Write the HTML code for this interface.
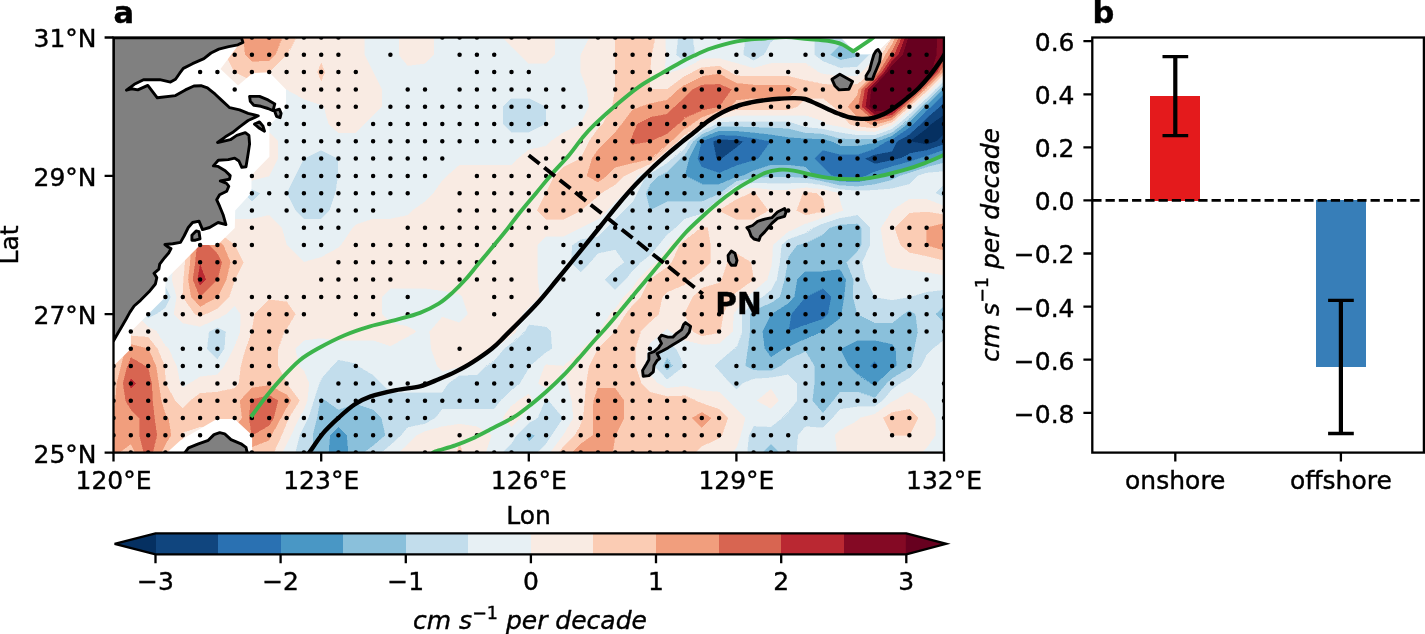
<!DOCTYPE html><html><head><meta charset="utf-8"><title>figure</title><style>html,body{margin:0;padding:0;background:#fff}svg{display:block}text{font-family:"DejaVu Sans","Liberation Sans",sans-serif;fill:#000;stroke:#000;stroke-width:0.4px}</style></head><body>
<svg width="1425" height="634" viewBox="0 0 1425 634">
<rect width="1425" height="634" fill="#fff"/>
<defs><clipPath id="ca"><rect x="113.5" y="37.5" width="830.4" height="415.1"/></clipPath></defs>
<g clip-path="url(#ca)">
<g shape-rendering="crispEdges">
<path d="M909.4 141.3L926.6 144.7L937.0 141.3L944.0 134.4L944.0 124.0L944.0 114.5L931.0 124.0L926.6 128.3L909.4 141.3L909.4 141.3Z" fill="#053061" stroke="#053061" stroke-width="0.6" fill-rule="evenodd"/>
<path d="M719.1 159.9L721.9 158.6L736.4 147.8L743.8 141.3L736.4 139.9L719.1 139.1L712.9 141.3L716.2 158.6ZM874.8 164.1L892.1 160.4L899.5 158.6L909.4 153.6L926.6 150.5L944.0 144.6L944.0 141.3L944.0 134.4L937.0 141.3L926.6 144.7L909.4 141.3L909.4 141.3L909.4 141.3L926.7 128.3L931.0 124.0L944.0 114.5L944.0 106.7L944.0 102.4L939.6 106.7L926.6 118.0L920.6 124.0L909.4 134.4L897.0 141.3L892.1 151.2L874.8 154.4L864.7 158.6Z" fill="#10457e" stroke="#10457e" stroke-width="0.6" fill-rule="evenodd"/>
<path d="M874.8 369.6L878.6 366.1L874.8 361.2L869.8 366.1ZM788.2 331.5L788.2 331.5L805.5 325.0L822.9 319.2L828.2 314.2L831.5 296.9L822.9 288.3L805.5 296.9L805.5 296.9L791.1 314.2L788.2 331.5L788.2 331.5ZM840.1 177.8L857.5 178.0L866.1 175.9L874.8 171.9L892.1 166.6L909.4 161.9L919.7 158.6L926.6 156.3L944.0 150.2L944.0 144.6L926.6 150.5L909.4 153.6L899.5 158.6L892.1 160.4L874.8 164.1L864.7 158.6L874.8 154.4L892.1 151.2L897.0 141.3L909.4 134.4L920.6 124.0L926.6 118.0L939.6 106.7L944.0 102.4L944.0 93.7L931.0 106.7L926.6 110.4L913.1 124.0L909.4 127.4L892.1 139.2L886.3 141.3L874.8 148.4L857.5 154.2L840.1 154.2L822.9 149.9L814.2 158.6L822.9 167.2L831.5 175.9ZM701.8 167.2L719.1 173.2L736.4 165.8L753.6 160.6L758.6 158.6L771.0 141.3L771.0 141.3L771.0 141.3L753.6 137.9L736.4 135.4L719.1 134.8L701.8 140.9L701.3 141.3L697.4 158.6ZM716.2 158.6L712.9 141.3L719.1 139.1L736.4 139.9L743.8 141.3L736.4 147.8L721.9 158.6L719.1 159.9Z" fill="#2a71b2" stroke="#2a71b2" stroke-width="0.6" fill-rule="evenodd"/>
<path d="M338.4 452.6L348.5 452.6L347.1 435.3L338.4 426.7L329.8 435.3L328.4 452.6ZM874.8 385.9L876.8 383.4L892.1 369.0L896.8 366.1L895.9 348.8L892.1 343.9L874.8 340.2L857.5 340.2L840.1 348.8L840.1 348.8L840.1 348.8L848.8 366.1L857.5 374.8L869.8 383.4ZM869.8 366.1L874.8 361.2L878.6 366.1L874.8 369.6ZM771.0 357.5L783.9 348.8L788.2 347.3L805.5 339.1L822.9 331.5L822.9 331.5L840.1 318.6L841.7 314.2L844.5 296.9L846.2 279.6L840.1 269.0L822.9 271.0L805.5 271.0L796.9 279.6L794.0 296.9L788.2 303.1L771.0 314.2L771.0 314.2L762.3 331.5L764.5 348.8ZM788.2 331.5L788.2 331.5L791.1 314.2L805.5 296.9L805.5 296.9L822.9 288.3L831.5 296.9L828.2 314.2L822.9 319.2L805.5 325.0L788.2 331.5L788.2 331.5ZM684.5 175.9L701.8 184.5L719.1 184.5L736.4 177.2L742.8 175.9L753.6 170.8L771.0 165.2L788.2 165.2L805.5 167.2L814.2 175.9L822.9 177.8L840.1 181.8L857.5 182.4L874.8 178.7L883.4 175.9L892.1 172.8L909.4 167.5L926.6 161.9L936.1 158.6L944.0 155.8L944.0 150.2L926.6 156.3L919.7 158.6L909.4 161.9L892.1 166.6L874.8 171.9L866.1 175.9L857.5 178.0L840.1 177.8L831.5 175.9L822.9 167.2L814.2 158.6L822.9 149.9L840.1 154.2L857.5 154.2L874.8 148.4L886.3 141.3L892.1 139.2L909.4 127.4L913.1 124.0L926.6 110.4L931.0 106.7L944.0 93.7L944.0 89.4L944.0 87.7L942.2 89.4L926.7 105.0L924.7 106.7L909.4 122.1L907.1 124.0L892.1 135.6L876.7 141.3L874.8 142.5L857.5 145.6L840.1 145.6L831.5 141.3L822.9 138.7L805.5 138.4L788.2 137.0L771.0 134.4L753.6 132.3L736.4 130.8L719.1 130.5L701.8 137.5L697.1 141.3L688.8 158.6L684.5 175.9L684.5 175.9ZM697.4 158.6L701.3 141.3L701.8 140.9L719.1 134.8L736.4 135.4L753.6 137.9L771.0 141.3L771.0 141.3L771.0 141.3L758.6 158.6L753.6 160.6L736.4 165.8L719.1 173.2L701.8 167.2Z" fill="#4997c5" stroke="#4997c5" stroke-width="0.6" fill-rule="evenodd"/>
<path d="M321.2 452.6L328.4 452.6L329.8 435.3L338.4 426.7L347.1 435.3L348.5 452.6L355.8 452.6L364.4 452.6L373.1 445.9L385.6 435.3L381.7 418.0L373.1 409.4L355.8 403.6L338.4 409.4L326.1 400.7L321.2 397.3L319.9 400.7L316.8 418.0L312.5 435.3L312.5 452.6ZM528.8 441.8L535.2 435.3L528.8 432.4L525.9 435.3ZM771.0 452.6L779.6 452.6L771.0 444.0L762.3 452.6ZM822.9 413.3L833.5 400.7L840.1 392.1L857.5 392.1L874.8 398.2L887.0 383.4L892.1 378.6L909.4 368.2L911.4 366.1L914.5 348.8L918.0 331.5L915.8 314.2L909.4 310.2L902.9 314.2L892.1 322.9L874.8 322.9L857.5 314.2L857.5 314.2L853.1 296.9L853.7 279.6L846.8 262.3L857.5 251.7L861.8 245.0L861.8 227.8L857.5 223.4L840.1 224.4L829.3 227.8L822.9 234.2L805.5 243.0L796.9 245.0L788.2 256.6L787.5 262.3L784.3 279.6L779.6 296.9L771.0 302.7L753.6 309.9L749.7 314.2L749.7 331.5L747.5 348.8L745.0 366.1L753.6 370.4L771.0 371.0L781.0 366.1L788.2 359.9L805.5 351.7L814.2 366.1L814.2 383.4L812.2 400.7ZM869.8 383.4L857.5 374.8L848.8 366.1L840.1 348.8L840.1 348.8L840.1 348.8L857.5 340.2L874.8 340.2L892.1 343.9L895.9 348.8L896.8 366.1L892.1 369.0L876.8 383.4L874.8 385.9ZM764.5 348.8L762.3 331.5L771.0 314.2L771.0 314.2L788.2 303.1L794.0 296.9L796.9 279.6L805.5 271.0L822.9 271.0L840.1 269.0L846.2 279.6L844.5 296.9L841.7 314.2L840.1 318.6L822.9 331.5L822.9 331.5L805.5 339.1L788.2 347.3L783.9 348.8L771.0 357.5ZM459.6 383.4L459.6 383.4L459.6 383.4L459.6 383.4ZM667.1 370.7L672.9 366.1L667.1 356.5L662.8 366.1ZM944.0 322.9L944.0 314.2L944.0 305.6L935.3 314.2ZM649.9 210.5L649.9 210.5L667.1 201.8L684.5 201.8L701.8 201.8L719.1 194.2L720.2 193.2L736.4 181.5L753.6 178.3L771.0 177.1L788.2 177.1L805.5 178.3L822.9 181.7L840.1 185.7L857.5 186.7L874.8 184.5L892.1 180.2L900.7 175.9L909.4 173.1L926.6 167.5L944.0 162.9L944.0 158.6L944.0 155.8L936.1 158.6L926.6 161.9L909.4 167.5L892.1 172.8L883.4 175.9L874.8 178.7L857.5 182.4L840.1 181.8L822.9 177.8L814.2 175.9L805.5 167.2L788.2 165.2L771.0 165.2L753.6 170.8L742.8 175.9L736.4 177.2L719.1 184.5L701.8 184.5L684.5 175.9L684.5 175.9L684.5 175.9L688.8 158.6L697.1 141.3L701.8 137.5L719.1 130.5L736.4 130.8L753.6 132.3L771.0 134.4L788.2 137.0L805.5 138.4L822.9 138.7L831.5 141.3L840.1 145.6L857.5 145.6L874.8 142.5L876.7 141.3L892.1 135.6L907.1 124.0L909.4 122.1L924.7 106.7L926.6 105.0L942.2 89.4L944.0 87.7L944.0 84.2L938.8 89.4L926.6 101.5L920.9 106.7L909.4 118.2L902.5 124.0L892.1 132.1L874.8 138.5L857.5 139.1L840.1 138.3L822.9 133.6L805.5 132.6L788.2 128.3L771.0 127.4L753.6 126.8L736.4 126.3L719.1 126.1L701.8 134.2L692.9 141.3L684.5 155.1L680.1 158.6L667.1 171.5L658.5 175.9L649.9 184.5L645.5 193.2L649.9 210.5ZM840.1 60.3L857.5 56.8L859.5 54.8L857.5 54.8L852.5 49.9L840.1 44.7L830.1 54.8Z" fill="#8ac0db" stroke="#8ac0db" stroke-width="0.6" fill-rule="evenodd"/>
<path d="M303.9 452.6L312.5 452.6L312.5 435.3L316.8 418.0L319.9 400.7L321.2 397.3L326.1 400.7L338.4 409.4L355.8 403.6L373.1 409.4L381.7 418.0L385.6 435.3L373.1 445.9L364.4 452.6L373.1 452.6L381.7 452.6L390.4 445.4L401.4 435.3L407.7 427.6L425.0 424.0L435.6 418.0L442.3 409.4L459.6 409.4L476.9 409.4L494.2 409.4L500.8 400.7L511.5 390.1L520.1 383.4L528.8 369.0L530.2 366.1L546.1 352.5L552.5 348.8L551.0 331.5L546.1 326.6L528.8 324.3L524.4 331.5L511.5 342.8L503.8 348.8L494.2 360.4L485.5 366.1L476.9 374.8L459.6 375.2L448.0 383.4L442.3 392.1L425.0 392.1L407.7 392.1L390.4 392.1L381.7 383.4L373.1 374.8L358.6 366.1L355.8 363.2L338.4 359.6L332.0 366.1L321.2 378.5L319.1 383.4L313.5 400.7L308.2 418.0L303.9 426.7L299.5 435.3L295.2 452.6ZM459.6 383.4L459.6 383.4L459.6 383.4L459.6 383.4ZM511.5 452.6L528.8 452.6L537.4 452.6L546.1 444.0L551.8 435.3L563.4 418.0L563.4 418.0L563.4 418.0L548.9 400.7L546.1 399.6L544.8 400.7L537.4 418.0L528.8 422.8L516.3 435.3L511.5 443.2L502.0 452.6ZM525.9 435.3L528.8 432.4L535.2 435.3L528.8 441.8ZM753.6 452.6L762.3 452.6L771.0 444.0L779.6 452.6L788.2 452.6L796.9 452.6L798.3 435.3L805.5 426.7L822.9 428.1L832.9 418.0L840.1 409.4L857.5 406.9L874.8 406.7L882.9 400.7L892.1 389.6L900.7 383.4L909.4 378.3L921.6 366.1L926.6 355.3L933.1 348.8L944.0 340.2L944.0 331.5L944.0 322.9L935.3 314.2L944.0 305.6L944.0 296.9L944.0 289.7L926.6 291.7L909.4 296.9L909.4 296.9L892.1 299.8L874.8 296.9L874.8 296.9L866.1 279.6L862.4 262.3L870.4 245.0L870.4 227.8L857.5 214.8L840.1 217.8L822.9 223.4L812.8 227.8L805.5 232.8L788.2 239.0L781.3 245.0L779.6 262.3L776.5 279.6L771.0 289.7L762.3 296.9L753.6 301.3L741.9 314.2L741.9 331.5L736.4 346.7L733.5 348.8L719.1 361.2L714.1 366.1L719.1 371.1L729.9 383.4L736.4 389.9L742.8 383.4L753.6 379.1L771.0 377.9L788.2 374.8L796.9 383.4L796.9 400.7L788.2 411.5L781.8 418.0L771.0 426.7L753.6 425.9L748.7 435.3L747.0 452.6ZM812.2 400.7L814.2 383.4L814.2 366.1L805.5 351.7L788.2 359.9L781.0 366.1L771.0 371.0L753.6 370.4L745.0 366.1L747.5 348.8L749.7 331.5L749.7 314.2L753.6 309.9L771.0 302.7L779.6 296.9L784.3 279.6L787.5 262.3L788.2 256.6L796.9 245.0L805.5 243.0L822.9 234.2L829.3 227.8L840.1 224.4L857.5 223.4L861.8 227.8L861.8 245.0L857.5 251.7L846.8 262.3L853.7 279.6L853.1 296.9L857.5 314.2L857.5 314.2L874.8 322.9L892.1 322.9L902.9 314.2L909.4 310.2L915.8 314.2L918.0 331.5L914.5 348.8L911.4 366.1L909.4 368.2L892.1 378.6L887.0 383.4L874.8 398.2L857.5 392.1L840.1 392.1L833.5 400.7L822.9 413.3ZM667.1 379.8L684.5 366.1L684.5 366.1L684.5 366.1L676.6 348.8L667.1 341.9L659.7 348.8L654.2 366.1ZM662.8 366.1L667.1 356.5L672.9 366.1L667.1 370.7ZM217.4 359.5L224.6 348.8L226.0 331.5L217.4 327.2L208.7 331.5L206.7 348.8ZM148.2 318.6L156.8 314.2L165.4 308.1L170.8 296.9L165.4 285.8L154.3 296.9L148.2 305.6L143.8 314.2ZM615.2 290.3L625.9 279.6L632.6 271.0L641.2 262.3L649.9 255.7L659.1 245.0L667.1 235.0L675.8 227.8L684.5 219.1L701.8 213.8L705.2 210.5L719.1 199.6L726.2 193.2L736.4 185.8L753.6 183.2L771.0 183.6L788.2 183.6L805.5 183.1L822.9 185.6L840.1 189.6L857.5 191.0L874.8 190.3L892.1 188.8L909.4 184.5L918.0 175.9L926.6 173.1L944.0 171.5L944.0 162.9L926.6 167.5L909.4 173.1L900.7 175.9L892.1 180.2L874.8 184.5L857.5 186.7L840.1 185.7L822.9 181.7L805.5 178.3L788.2 177.1L771.0 177.1L753.6 178.3L736.4 181.5L720.2 193.2L719.1 194.2L701.8 201.8L684.5 201.8L667.1 201.8L649.9 210.5L649.9 210.5L649.9 210.5L645.5 193.2L649.9 184.5L658.5 175.9L667.1 171.5L680.1 158.6L684.5 155.1L692.9 141.3L701.8 134.2L719.1 126.1L736.4 126.3L753.6 126.8L771.0 127.4L788.2 128.3L805.5 132.6L822.9 133.6L840.1 138.3L857.5 139.1L874.8 138.5L892.1 132.1L902.5 124.0L909.4 118.2L920.9 106.7L926.6 101.5L938.8 89.4L944.0 84.2L944.0 80.7L935.3 89.4L926.6 98.0L917.0 106.7L909.4 114.4L898.0 124.0L892.1 128.6L874.8 135.0L857.5 134.8L840.1 132.3L822.9 128.6L805.5 126.9L796.9 124.0L788.2 121.1L771.0 121.1L753.6 121.1L736.4 121.1L719.1 122.1L715.6 124.0L701.8 130.8L688.7 141.3L684.5 148.2L671.5 158.6L667.1 162.9L649.9 173.5L645.5 175.9L636.9 193.2L632.6 201.8L623.9 210.5L615.2 219.1L606.6 227.8L598.0 236.4L580.7 239.3L572.0 245.0L570.6 262.3L580.7 272.4L590.7 262.3L598.0 253.7L615.2 250.0L623.9 262.3L615.2 269.0L604.6 279.6ZM303.9 219.1L321.2 219.1L329.8 210.5L335.6 193.2L338.4 175.9L338.4 175.9L338.4 158.6L338.4 158.6L321.2 149.9L303.9 158.6L303.9 158.6L295.2 175.9L286.6 193.2L286.6 193.2L286.6 193.2L295.2 210.5ZM251.9 201.8L260.6 193.2L251.9 188.8L243.3 193.2ZM944.0 197.5L944.0 193.2L944.0 184.5L935.3 193.2ZM511.5 132.6L528.8 132.6L546.1 124.0L546.1 124.0L546.1 106.7L546.1 106.7L528.8 98.0L511.5 98.0L502.8 106.7L502.8 124.0ZM684.5 61.3L695.6 54.8L693.1 37.5L684.5 37.5L677.8 37.5L675.8 54.8ZM753.6 60.8L764.3 54.8L771.0 42.4L775.9 37.5L771.0 37.5L753.6 37.5L745.0 37.5L743.0 54.8ZM822.9 61.4L840.1 68.2L857.5 67.0L869.7 54.8L859.5 54.8L857.5 56.8L840.1 60.3L830.1 54.8L840.1 44.7L852.5 49.9L840.1 37.5L822.9 37.5L814.2 37.5L814.2 54.8Z" fill="#c2ddec" stroke="#c2ddec" stroke-width="0.6" fill-rule="evenodd"/>
<path d="M286.6 452.6L295.2 452.6L299.5 435.3L303.9 426.7L308.2 418.0L313.5 400.7L319.1 383.4L321.2 378.5L332.0 366.1L338.4 359.6L355.8 363.2L358.6 366.1L373.1 374.8L381.7 383.4L390.4 392.1L407.7 392.1L425.0 392.1L442.3 392.1L448.0 383.4L459.6 375.2L476.9 374.8L485.5 366.1L494.2 360.4L503.8 348.8L511.5 342.8L524.4 331.5L528.8 324.3L546.1 326.6L551.0 331.5L552.5 348.8L546.1 352.5L530.2 366.1L528.8 369.0L520.1 383.4L511.5 390.1L500.8 400.7L494.2 409.4L476.9 409.4L459.6 409.4L442.3 409.4L435.6 418.0L425.0 424.0L407.7 427.6L401.4 435.3L390.4 445.4L381.7 452.6L390.4 452.6L399.0 452.6L407.7 444.7L417.1 435.3L425.0 431.5L442.3 426.7L459.6 424.2L476.9 426.7L491.3 435.3L485.5 452.6L494.2 452.6L502.0 452.6L511.5 443.2L516.3 435.3L528.8 422.8L537.4 418.0L544.8 400.7L546.1 399.6L548.9 400.7L563.4 418.0L563.4 418.0L563.4 418.0L551.8 435.3L546.1 444.0L537.4 452.6L546.1 452.6L550.4 452.6L563.4 435.3L563.4 435.3L573.5 418.0L572.0 400.7L567.7 383.4L563.4 366.1L580.6 351.7L582.2 348.8L598.0 333.1L599.5 331.5L610.3 314.2L615.2 309.3L623.9 296.9L632.6 288.3L638.3 279.6L649.9 268.1L656.5 262.3L667.1 249.8L670.0 245.0L684.5 232.1L689.9 227.8L701.8 220.4L712.1 210.5L719.1 205.1L732.2 193.2L736.4 190.1L753.6 188.0L771.0 190.0L788.2 190.0L805.5 187.9L822.9 189.5L838.5 193.2L840.1 201.8L843.0 210.5L840.1 211.1L822.9 217.3L805.5 223.4L796.9 227.8L788.2 231.5L772.7 245.0L771.7 262.3L771.0 266.7L767.0 279.6L753.6 291.2L747.0 296.9L736.4 309.5L733.3 314.2L732.6 331.5L719.1 343.4L701.8 344.5L684.5 340.2L670.0 331.5L667.1 328.6L663.7 331.5L649.9 343.1L647.4 348.8L645.0 366.1L649.9 374.8L657.7 383.4L667.1 388.4L684.5 386.3L701.8 390.6L719.1 392.1L727.7 400.7L736.4 409.4L745.0 418.0L740.5 435.3L736.4 447.7L731.4 452.6L736.4 452.6L747.0 452.6L748.7 435.3L753.6 425.9L771.0 426.7L781.8 418.0L788.2 411.5L796.9 400.7L796.9 383.4L788.2 374.8L771.0 377.9L753.6 379.1L742.8 383.4L736.4 389.9L729.9 383.4L719.1 371.1L714.1 366.1L719.1 361.2L733.5 348.8L736.4 346.7L741.9 331.5L741.9 314.2L753.6 301.3L762.3 296.9L771.0 289.7L776.5 279.6L779.6 262.3L781.3 245.0L788.2 239.0L805.5 232.8L812.8 227.8L822.9 223.4L840.1 217.8L857.5 214.8L870.4 227.8L870.4 245.0L862.4 262.3L866.1 279.6L874.8 296.9L874.8 296.9L892.1 299.8L909.4 296.9L909.4 296.9L926.6 291.7L944.0 289.7L944.0 279.6L944.0 274.9L926.6 272.2L909.4 269.8L892.1 267.3L887.1 262.3L883.4 245.0L880.9 227.8L892.1 210.5L892.1 210.5L909.4 199.3L926.6 199.3L944.0 206.1L944.0 197.5L935.3 193.2L944.0 184.5L944.0 175.9L944.0 171.5L926.6 173.1L918.0 175.9L909.4 184.5L892.1 188.8L874.8 190.3L857.5 191.0L840.1 189.6L822.9 185.6L805.5 183.1L788.2 183.6L771.0 183.6L753.6 183.2L736.4 185.8L726.2 193.2L719.1 199.6L705.2 210.5L701.8 213.8L684.5 219.1L675.8 227.8L667.1 235.0L659.1 245.0L649.9 255.7L641.2 262.3L632.6 271.0L625.9 279.6L615.2 290.3L604.6 279.6L615.2 269.0L623.9 262.3L615.2 250.0L598.0 253.7L590.7 262.3L580.7 272.4L570.6 262.3L572.0 245.0L580.7 239.3L598.0 236.4L606.6 227.8L615.2 219.1L623.9 210.5L632.6 201.8L636.9 193.2L645.5 175.9L649.9 173.5L667.1 162.9L671.5 158.6L684.5 148.2L688.7 141.3L701.8 130.8L715.6 124.0L719.1 122.1L736.4 121.1L753.6 121.1L771.0 121.1L788.2 121.1L796.9 124.0L805.5 126.9L822.9 128.6L840.1 132.3L857.5 134.8L874.8 135.0L892.1 128.6L898.0 124.0L909.4 114.4L917.0 106.7L926.6 98.0L935.3 89.4L944.0 80.7L943.9 77.3L931.8 89.4L926.6 94.6L913.2 106.7L909.4 110.5L893.4 124.0L892.1 125.0L874.8 131.6L857.5 130.5L840.1 126.4L826.3 124.0L822.9 121.1L805.5 115.3L788.2 115.3L771.0 115.3L753.6 115.3L736.4 115.3L719.1 118.2L708.7 124.0L701.8 127.4L684.5 141.3L684.5 141.3L667.1 155.8L663.8 158.6L649.9 168.7L636.9 175.9L632.6 184.5L623.9 193.2L615.2 201.8L606.6 210.5L598.0 219.1L580.7 227.8L580.7 227.8L563.4 236.4L546.1 236.4L537.4 245.0L537.4 262.3L537.4 279.6L539.6 296.9L528.8 307.7L522.3 314.2L515.8 331.5L511.5 335.3L494.2 348.8L494.2 348.8L476.9 357.5L462.4 366.1L459.6 366.9L442.3 371.1L437.3 366.1L431.4 348.8L429.9 331.5L442.3 317.1L459.6 322.9L468.2 314.2L462.4 296.9L459.6 294.1L442.3 290.5L425.0 288.3L407.7 288.3L390.4 288.3L381.7 296.9L381.7 314.2L390.4 322.9L407.7 326.6L416.3 331.5L407.7 336.5L390.4 345.9L373.1 340.2L355.8 340.2L338.4 340.2L321.2 338.0L303.9 340.2L295.2 348.8L298.9 366.1L303.9 371.1L308.9 383.4L307.1 400.7L303.9 409.4L298.8 418.0L290.9 435.3L286.6 444.0L282.2 452.6ZM502.8 418.0L511.5 405.7L518.4 400.7L528.8 394.2L532.5 400.7L528.8 407.2L520.1 418.0L511.5 426.7ZM757.1 400.7L771.0 389.2L778.6 400.7L771.0 408.4ZM538.4 383.4L544.6 366.1L546.1 364.9L563.4 366.1L557.6 383.4L546.1 388.0ZM654.2 366.1L659.7 348.8L667.1 341.9L676.6 348.8L684.5 366.1L684.5 366.1L684.5 366.1L667.1 379.8ZM805.5 452.6L822.9 452.6L837.3 452.6L835.2 435.3L840.1 430.4L857.5 420.9L860.3 418.0L874.8 414.2L892.1 401.8L894.9 400.7L909.4 392.1L923.8 400.7L926.6 403.6L935.3 418.0L935.3 435.3L926.6 447.7L921.7 452.6L926.6 452.6L944.0 452.6L944.0 435.3L944.0 418.0L944.0 400.7L944.0 383.4L944.0 366.1L944.0 348.8L944.0 340.2L933.1 348.8L926.6 355.3L921.6 366.1L909.4 378.3L900.7 383.4L892.1 389.6L882.9 400.7L874.8 406.7L857.5 406.9L840.1 409.4L832.9 418.0L822.9 428.1L805.5 426.7L798.3 435.3L796.9 452.6ZM182.8 387.7L189.7 383.4L200.1 376.9L217.4 374.8L224.6 366.1L233.7 348.8L234.7 345.9L240.4 331.5L240.8 314.2L234.7 305.6L226.0 314.2L217.4 318.6L200.1 326.4L182.8 322.9L174.1 314.2L176.8 296.9L172.1 279.6L174.1 262.3L165.4 253.7L156.8 245.0L148.2 236.4L139.5 227.8L130.8 219.1L122.2 210.5L113.5 201.8L113.5 210.5L113.5 227.8L113.5 245.0L113.5 262.3L113.5 279.6L113.5 296.9L113.5 305.6L130.8 305.6L135.2 314.2L148.2 327.2L156.8 331.5L165.4 345.9L168.3 348.8L176.6 366.1L179.9 383.4ZM206.7 348.8L208.7 331.5L217.4 327.2L226.0 331.5L224.6 348.8L217.4 359.5ZM143.8 314.2L148.2 305.6L154.3 296.9L165.4 285.8L170.8 296.9L165.4 308.1L156.8 314.2L148.2 318.6ZM303.9 262.3L303.9 262.3L321.2 257.4L338.4 247.9L341.3 245.0L352.9 227.8L355.8 224.9L373.1 219.1L390.4 219.1L407.7 215.4L412.6 210.5L425.0 201.8L433.6 193.2L442.3 180.8L447.2 175.9L459.6 165.1L476.9 165.1L494.2 165.1L511.5 165.1L517.9 158.6L528.8 149.9L546.1 146.2L551.0 141.3L563.4 132.6L580.7 124.0L580.7 124.0L589.3 106.7L587.1 89.4L580.7 72.1L580.7 54.8L589.3 37.5L580.7 37.5L563.4 37.5L554.7 37.5L554.7 54.8L546.1 63.4L528.8 63.4L520.1 54.8L511.5 46.1L502.8 37.5L494.2 37.5L476.9 37.5L459.6 37.5L442.3 37.5L433.6 37.5L433.6 54.8L425.0 63.4L407.7 65.6L399.0 54.8L399.0 37.5L390.4 37.5L373.1 37.5L364.4 37.5L364.4 54.8L373.1 72.1L373.1 72.1L381.7 89.4L381.7 106.7L373.1 115.3L364.4 124.0L355.8 132.6L338.4 132.6L328.8 124.0L324.0 106.7L321.2 104.9L303.9 99.0L286.6 89.4L286.6 89.4L269.2 89.4L269.2 89.4L251.9 98.0L243.3 106.7L234.7 115.3L226.0 124.0L234.7 132.6L251.9 132.6L269.2 132.6L277.9 141.3L277.9 158.6L269.2 175.9L269.2 175.9L251.9 180.2L234.7 184.5L217.4 184.5L208.7 175.9L200.1 167.2L191.4 175.9L200.1 184.5L208.7 193.2L217.4 201.8L226.0 210.5L234.7 219.1L251.9 219.1L269.2 215.4L281.6 227.8L286.6 245.0L286.6 245.0L303.9 262.3ZM295.2 210.5L286.6 193.2L286.6 193.2L286.6 193.2L295.2 175.9L303.9 158.6L303.9 158.6L321.2 149.9L338.4 158.6L338.4 158.6L338.4 175.9L338.4 175.9L335.6 193.2L329.8 210.5L321.2 219.1L303.9 219.1ZM243.3 193.2L251.9 188.8L260.6 193.2L251.9 201.8ZM502.8 124.0L502.8 106.7L511.5 98.0L528.8 98.0L546.1 106.7L546.1 106.7L546.1 124.0L546.1 124.0L528.8 132.6L511.5 132.6ZM667.1 75.0L672.1 72.1L684.5 68.5L701.8 59.1L719.1 58.6L736.4 63.4L753.6 68.3L771.0 63.4L788.2 63.4L805.5 63.4L817.9 72.1L822.9 74.1L840.1 76.4L857.5 76.2L861.8 72.1L874.8 59.1L876.9 54.8L880.5 49.0L874.8 54.8L869.7 54.8L857.5 67.0L840.1 68.2L822.9 61.4L814.2 54.8L814.2 37.5L805.5 37.5L788.2 37.5L775.9 37.5L771.0 42.4L764.3 54.8L753.6 60.8L743.0 54.8L745.0 37.5L736.4 37.5L719.1 37.5L701.8 37.5L693.1 37.5L695.6 54.8L684.5 61.3L675.8 54.8L677.8 37.5L667.1 37.5L665.1 37.5L665.7 54.8L664.3 72.1Z" fill="#e7f0f4" stroke="#e7f0f4" stroke-width="0.6" fill-rule="evenodd"/>
<path d="M182.8 438.2L191.4 452.6L200.1 452.6L217.4 452.6L226.0 452.6L220.8 435.3L217.4 426.7L200.1 426.7L182.8 432.4L181.7 435.3ZM286.6 444.0L290.9 435.3L298.8 418.0L303.9 409.4L307.1 400.7L308.9 383.4L303.9 371.1L298.9 366.1L295.2 348.8L303.9 340.2L321.2 338.0L338.4 340.2L355.8 340.2L373.1 340.2L390.4 345.9L407.7 336.5L416.3 331.5L407.7 326.6L390.4 322.9L381.7 314.2L381.7 296.9L390.4 288.3L407.7 288.3L425.0 288.3L442.3 290.5L459.6 294.1L462.4 296.9L468.2 314.2L459.6 322.9L442.3 317.1L429.9 331.5L431.4 348.8L437.3 366.1L442.3 371.1L459.6 366.9L462.4 366.1L476.9 357.5L494.2 348.8L494.2 348.8L511.5 335.3L515.8 331.5L522.3 314.2L528.8 307.7L539.6 296.9L537.4 279.6L537.4 262.3L537.4 245.0L546.1 236.4L563.4 236.4L580.7 227.8L580.7 227.8L598.0 219.1L606.6 210.5L615.2 201.8L623.9 193.2L632.6 184.5L636.9 175.9L649.9 168.7L663.8 158.6L667.1 155.8L684.5 141.3L684.5 141.3L701.8 127.4L708.7 124.0L719.1 118.2L736.4 115.3L753.6 115.3L771.0 115.3L788.2 115.3L805.5 115.3L822.9 121.1L826.3 124.0L840.1 126.4L857.5 130.5L874.8 131.6L892.1 125.0L893.4 124.0L909.4 110.5L913.2 106.7L926.6 94.6L931.8 89.4L943.9 77.3L944.0 73.8L928.4 89.4L926.6 91.1L909.4 106.7L909.4 106.7L892.1 122.2L885.7 124.0L874.8 128.1L857.5 126.1L849.6 124.0L840.1 112.4L833.7 106.7L822.9 98.0L805.5 98.0L796.9 106.7L788.2 109.6L771.0 109.6L753.6 109.6L736.4 109.6L719.1 114.4L701.8 124.0L701.8 124.0L684.5 134.9L677.8 141.3L667.1 150.2L657.2 158.6L649.9 163.9L632.6 171.5L623.9 175.9L615.2 184.5L600.8 193.2L598.0 196.0L580.7 210.5L580.7 210.5L563.4 219.1L546.1 219.1L537.4 210.5L546.1 193.2L546.1 193.2L554.7 175.9L563.4 167.2L580.7 158.6L580.7 158.6L589.3 141.3L598.0 128.9L602.9 124.0L612.4 106.7L615.2 89.4L615.2 89.4L615.2 72.1L615.2 54.8L615.2 37.5L615.2 37.5L598.0 37.5L589.3 37.5L580.7 54.8L580.7 72.1L587.1 89.4L589.3 106.7L580.7 124.0L580.7 124.0L563.4 132.6L551.0 141.3L546.1 146.2L528.8 149.9L517.9 158.6L511.5 165.1L494.2 165.1L476.9 165.1L459.6 165.1L447.2 175.9L442.3 180.8L433.6 193.2L425.0 201.8L412.6 210.5L407.7 215.4L390.4 219.1L373.1 219.1L355.8 224.9L352.9 227.8L341.3 245.0L338.4 247.9L321.1 257.4L303.9 262.3L303.9 262.3L303.9 262.3L286.6 245.0L286.6 245.0L281.6 227.8L269.2 215.4L251.9 219.1L234.7 219.1L226.0 210.5L217.4 201.8L208.7 193.2L200.1 184.5L191.4 175.9L200.1 167.2L208.7 175.9L217.4 184.5L234.7 184.5L251.9 180.2L269.2 175.9L269.2 175.9L277.9 158.6L277.9 141.3L269.2 132.6L251.9 132.6L234.7 132.6L226.0 124.0L234.7 115.3L243.3 106.7L251.9 98.0L269.2 89.4L269.2 89.4L286.6 89.4L286.6 89.4L303.9 99.0L321.2 104.9L324.0 106.7L328.8 124.0L338.4 132.6L355.8 132.6L364.4 124.0L373.1 115.3L381.7 106.7L381.7 89.4L373.1 72.1L373.1 72.1L364.4 54.8L364.4 37.5L355.8 37.5L338.4 37.5L321.2 37.5L303.9 37.5L296.0 37.5L286.6 54.8L286.6 54.8L269.2 72.1L269.2 72.1L251.9 80.7L234.7 72.1L234.7 72.1L226.0 54.8L217.4 46.1L208.7 37.5L200.1 37.5L182.8 37.5L165.4 37.5L148.2 37.5L130.8 37.5L113.5 37.5L113.5 54.8L113.5 72.1L113.5 89.4L113.5 106.7L113.5 124.0L113.5 141.3L113.5 144.2L130.8 144.2L145.3 158.6L148.2 161.5L162.6 175.9L165.4 178.7L179.9 193.2L182.8 196.0L197.2 210.5L200.1 213.3L214.5 227.8L217.4 232.1L234.7 245.0L234.7 245.0L243.3 262.3L234.7 279.6L234.7 279.6L228.9 296.9L217.4 308.5L205.0 314.2L200.1 316.3L195.1 314.2L182.8 296.9L183.7 279.6L185.3 262.3L185.6 245.0L182.8 242.2L168.3 227.8L165.4 224.9L151.0 210.5L148.2 207.6L133.7 193.2L130.8 190.3L116.4 175.9L113.5 173.0L113.5 175.9L113.5 193.2L113.5 201.8L122.2 210.5L130.8 219.1L139.5 227.8L148.2 236.4L156.8 245.0L165.4 253.7L174.1 262.3L172.1 279.6L176.8 296.9L174.1 314.2L182.8 322.9L200.1 326.4L217.4 318.6L226.0 314.2L234.7 305.6L240.8 314.2L240.4 331.5L234.7 345.9L233.7 348.8L224.6 366.1L217.4 374.8L200.1 376.9L189.7 383.4L182.8 387.7L179.9 383.4L176.6 366.1L168.3 348.8L165.4 345.9L156.8 331.5L148.2 327.2L135.2 314.2L130.8 305.6L113.5 305.6L113.5 314.2L113.5 331.5L113.5 348.8L113.5 366.1L113.5 371.1L114.8 366.1L115.6 348.8L130.8 335.9L148.2 337.3L157.3 348.8L164.6 366.1L165.4 383.4L165.4 383.4L175.1 400.7L182.8 408.4L190.4 400.7L200.1 393.5L217.4 392.1L234.7 388.4L239.0 383.4L241.1 366.1L245.8 348.8L251.9 331.5L251.9 331.5L254.8 314.2L269.2 299.8L286.6 301.9L295.2 314.2L286.6 328.6L283.7 331.5L277.9 348.8L277.9 366.1L286.6 383.4L286.6 383.4L299.5 400.7L288.6 418.0L286.6 423.0L281.5 435.3L273.6 452.6L282.2 452.6ZM317.6 72.1L321.2 63.4L324.7 72.1L321.2 80.7ZM407.7 452.6L425.0 452.6L442.3 452.6L456.7 452.6L459.6 444.0L462.4 452.6L476.9 452.6L485.5 452.6L491.3 435.3L476.9 426.7L459.6 424.2L442.3 426.7L425.0 431.5L417.1 435.3L407.7 444.7L399.0 452.6ZM563.4 446.8L574.9 435.3L580.7 424.5L583.5 418.0L585.0 400.7L586.4 383.4L589.3 366.1L598.0 348.8L598.0 348.8L615.2 331.5L615.2 331.5L625.9 314.2L632.6 305.6L641.2 296.9L649.9 279.6L649.9 279.6L667.1 267.3L672.1 262.3L679.6 245.0L684.5 240.7L700.7 227.8L701.8 227.1L707.5 227.8L710.4 245.0L710.4 262.3L701.8 271.0L689.4 279.6L684.5 284.6L667.1 292.0L662.2 296.9L658.5 314.2L649.9 322.1L640.4 331.5L635.0 348.8L635.4 366.1L641.2 383.4L649.9 392.1L667.1 396.6L684.5 395.9L695.3 400.7L701.8 403.4L719.1 409.4L727.7 418.0L721.9 435.3L719.1 438.2L701.8 446.1L695.3 452.6L701.8 452.6L719.1 452.6L731.4 452.6L736.4 447.7L740.5 435.3L745.0 418.0L736.4 409.4L727.7 400.7L719.1 392.1L701.8 390.6L684.5 386.3L667.1 388.4L657.7 383.4L649.9 374.8L645.0 366.1L647.4 348.8L649.9 343.1L663.7 331.5L667.1 328.6L670.0 331.5L684.5 340.2L701.8 344.5L719.1 343.4L732.6 331.5L733.3 314.2L736.4 309.5L747.0 296.9L753.6 291.2L767.0 279.6L771.0 266.7L771.7 262.3L772.7 245.0L788.2 231.5L796.9 227.8L805.5 223.4L822.9 217.3L840.1 211.1L843.0 210.5L840.1 201.8L838.5 193.2L822.9 189.5L805.5 187.9L788.2 190.0L771.0 190.0L753.6 188.0L736.4 190.1L732.2 193.2L719.1 205.1L712.1 210.5L701.8 220.4L689.9 227.8L684.5 232.1L670.0 245.0L667.1 249.8L656.5 262.3L649.9 268.1L638.3 279.6L632.6 288.3L623.9 296.9L615.2 309.3L610.3 314.2L599.5 331.5L598.0 333.1L582.2 348.8L580.7 351.7L563.4 366.1L567.7 383.4L572.0 400.7L573.5 418.0L563.4 435.3L563.4 435.3L550.4 452.6L559.0 452.6ZM693.1 331.5L684.5 314.2L693.1 296.9L701.8 288.3L719.1 283.1L721.9 279.6L727.7 262.3L736.4 253.7L750.8 262.3L753.6 279.6L736.4 292.0L730.6 296.9L723.1 314.2L720.3 331.5L719.1 332.6L701.8 335.9ZM719.1 210.5L736.4 199.6L751.2 193.2L753.6 192.9L755.2 193.2L768.1 210.5L753.6 219.1L736.4 219.1ZM796.9 210.5L803.2 193.2L805.5 192.8L816.2 193.2L822.9 198.9L824.6 210.5L822.9 211.1L805.5 214.8ZM840.1 452.6L857.5 452.6L874.8 452.6L892.1 452.6L909.4 452.6L921.7 452.6L926.6 447.7L935.3 435.3L935.3 418.0L926.6 403.6L923.8 400.7L909.4 392.1L894.9 400.7L892.1 401.8L874.8 414.2L860.3 418.0L857.5 420.9L840.1 430.4L835.2 435.3L837.3 452.6ZM883.4 418.0L892.1 412.6L909.4 409.4L918.0 418.0L909.4 435.3L892.1 435.3ZM234.7 418.8L235.3 418.0L234.7 415.1L231.8 418.0ZM511.5 426.7L520.1 418.0L528.8 407.2L532.5 400.7L528.8 394.2L518.4 400.7L511.5 405.7L502.8 418.0ZM771.0 408.4L778.6 400.7L771.0 389.2L757.1 400.7ZM546.1 388.0L557.6 383.4L563.4 366.1L546.1 364.9L544.6 366.1L538.4 383.4ZM892.1 267.3L909.4 269.8L926.6 272.2L944.0 274.9L944.0 262.3L944.0 260.3L926.6 255.9L909.4 252.3L900.7 245.0L894.9 227.8L909.4 213.3L926.7 212.0L944.0 214.8L944.0 210.5L944.0 206.1L926.6 199.3L909.4 199.3L892.1 210.5L892.1 210.5L880.9 227.8L883.4 245.0L887.1 262.3ZM649.9 89.4L667.1 89.4L667.1 89.4L684.5 76.4L693.1 72.1L701.8 67.8L719.1 66.1L729.7 72.1L736.4 75.9L753.6 76.4L771.0 76.4L788.2 76.4L805.5 80.7L822.9 84.3L840.1 85.1L857.5 84.4L870.4 72.1L874.8 67.8L881.2 54.8L892.1 37.5L892.1 37.5L892.1 37.5L880.5 49.0L876.9 54.8L874.8 59.1L861.8 72.1L857.5 76.2L840.1 76.4L822.9 74.1L817.9 72.1L805.5 63.4L788.2 63.4L771.0 63.4L753.6 68.3L736.4 63.4L719.1 58.6L701.8 59.1L684.5 68.5L672.1 72.1L667.1 75.0L664.3 72.1L665.7 54.8L665.1 37.5L654.9 37.5L651.3 54.8L649.9 72.1L649.9 72.1L649.9 89.4ZM407.7 65.6L425.0 63.4L433.6 54.8L433.6 37.5L425.0 37.5L407.7 37.5L399.0 37.5L399.0 54.8ZM528.8 63.4L546.1 63.4L554.7 54.8L554.7 37.5L546.1 37.5L528.8 37.5L511.5 37.5L502.8 37.5L511.5 46.1L520.1 54.8Z" fill="#f9ebe3" stroke="#f9ebe3" stroke-width="0.6" fill-rule="evenodd"/>
<path d="M130.8 452.6L135.2 452.6L130.8 444.0L119.3 452.6ZM165.4 452.6L182.8 452.6L191.4 452.6L182.8 438.2L181.7 435.3L182.8 432.4L200.1 426.7L217.4 426.7L220.8 435.3L226.0 452.6L234.7 452.6L251.9 452.6L269.2 452.6L273.6 452.6L281.5 435.3L286.6 423.0L288.6 418.0L299.5 400.7L286.6 383.4L286.6 383.4L277.9 366.1L277.9 348.8L283.7 331.5L286.6 328.6L295.2 314.2L286.6 301.9L269.2 299.8L254.8 314.2L251.9 331.5L251.9 331.5L245.8 348.8L241.1 366.1L239.0 383.4L234.7 388.4L217.4 392.1L200.1 393.5L190.4 400.7L182.8 408.4L175.1 400.7L165.4 383.4L165.4 383.4L164.6 366.1L157.3 348.8L148.2 337.3L130.8 335.9L115.6 348.8L114.8 366.1L113.5 371.1L113.5 383.4L113.5 400.7L113.5 418.0L113.5 418.0L113.5 418.0L115.6 400.7L116.8 383.4L121.2 366.1L125.8 348.8L130.8 344.5L148.2 348.8L148.2 348.8L155.9 366.1L158.5 383.4L161.1 400.7L165.4 415.1L168.3 418.0L170.9 435.3L165.4 444.0L161.1 452.6ZM227.7 435.3L234.7 427.1L242.3 418.0L240.1 400.7L251.9 388.0L269.2 385.5L286.6 394.9L290.9 400.7L286.6 407.4L280.8 418.0L271.3 435.3L269.2 440.2L251.9 446.8L234.7 446.8ZM231.8 418.0L234.7 415.1L235.3 418.0L234.7 418.8ZM459.6 452.6L462.4 452.6L459.6 444.0L456.7 452.6ZM563.4 452.6L572.0 452.6L580.7 444.0L593.0 435.3L593.1 418.0L593.6 400.7L598.0 388.4L615.2 388.4L623.9 400.7L623.9 418.0L615.2 435.3L615.2 435.3L612.4 452.6L615.2 452.6L632.6 452.6L649.9 452.6L667.1 452.6L684.5 452.6L695.3 452.6L701.8 446.1L719.1 438.2L721.9 435.3L727.7 418.0L719.1 409.4L701.8 403.4L695.3 400.7L684.5 395.9L667.1 396.6L649.9 392.1L641.2 383.4L635.4 366.1L635.0 348.8L640.4 331.5L649.9 322.1L658.5 314.2L662.2 296.9L667.1 292.0L684.5 284.6L689.4 279.6L701.8 271.0L710.4 262.3L710.4 245.0L707.5 227.8L701.7 227.1L700.7 227.8L684.5 240.7L679.6 245.0L672.1 262.3L667.1 267.3L649.9 279.6L649.9 279.6L641.2 296.9L632.6 305.6L625.9 314.2L615.2 331.5L615.2 331.5L598.0 348.8L598.0 348.8L589.3 366.1L586.4 383.4L585.0 400.7L583.5 418.0L580.7 424.5L574.9 435.3L563.4 446.8L559.0 452.6ZM692.3 418.0L701.8 412.5L711.2 418.0L701.8 427.4ZM892.1 435.3L909.4 435.3L918.0 418.0L909.4 409.4L892.1 412.6L883.4 418.0ZM701.8 335.9L719.1 332.6L720.3 331.5L723.1 314.2L730.6 296.9L736.4 292.0L753.6 279.6L750.8 262.3L736.4 253.7L727.7 262.3L721.9 279.6L719.1 283.1L701.8 288.3L693.1 296.9L684.5 314.2L693.1 331.5ZM200.1 316.3L205.0 314.2L217.4 308.5L228.9 296.9L234.7 279.6L234.7 279.6L243.3 262.3L234.7 245.0L234.7 245.0L217.4 232.1L214.5 227.8L200.1 213.3L197.2 210.5L182.8 196.0L179.9 193.2L165.4 178.7L162.6 175.9L148.2 161.5L145.3 158.6L130.8 144.2L113.5 144.2L113.5 149.9L130.8 149.9L139.5 158.6L148.2 167.2L156.8 175.9L165.4 184.5L174.1 193.2L182.8 201.8L191.4 210.5L200.1 219.1L208.7 227.8L217.4 240.7L223.1 245.0L230.3 262.3L226.0 279.6L217.4 296.9L217.4 296.9L200.1 306.5L191.4 296.9L188.4 279.6L190.4 262.3L191.4 245.0L182.8 236.4L174.1 227.8L165.4 219.1L156.8 210.5L148.2 201.8L139.5 193.2L130.8 184.5L122.2 175.9L113.5 167.2L113.5 173.0L116.4 175.9L130.8 190.3L133.7 193.2L148.2 207.6L151.0 210.5L165.4 224.9L168.3 227.8L182.8 242.2L185.6 245.0L185.3 262.3L183.7 279.6L182.8 296.9L195.1 314.2ZM909.4 252.3L926.6 255.9L944.0 260.3L943.9 250.1L926.6 245.0L926.6 227.8L944.0 223.4L944.0 214.8L926.6 212.0L909.4 213.3L894.9 227.8L900.7 245.0ZM546.1 219.1L563.4 219.1L580.7 210.5L580.7 210.5L598.0 196.0L600.8 193.2L615.2 184.5L623.9 175.9L632.6 171.5L649.9 163.9L657.2 158.6L667.1 150.2L677.8 141.3L684.5 134.9L701.8 124.0L701.8 124.0L719.1 114.4L736.4 109.6L753.6 109.6L771.0 109.6L788.2 109.6L796.9 106.7L805.5 98.0L822.9 98.0L833.7 106.7L840.1 112.4L849.6 124.0L857.5 126.1L874.8 128.1L885.7 124.0L892.1 122.2L909.4 106.7L909.4 106.7L926.7 91.1L928.4 89.4L944.0 73.8L944.0 72.1L944.0 69.5L942.5 72.1L926.6 87.9L925.2 89.4L909.4 104.0L906.6 106.7L892.1 119.7L876.6 124.0L874.8 124.7L869.8 124.0L857.5 117.3L848.2 106.7L857.5 95.2L858.7 89.4L874.8 73.7L876.2 72.1L885.6 54.8L892.1 44.4L895.3 37.5L892.1 37.5L892.1 37.5L881.2 54.8L874.8 67.8L870.4 72.1L857.5 84.4L840.1 85.1L822.9 84.3L805.5 80.7L788.2 76.4L771.0 76.4L753.6 76.4L736.4 75.9L729.7 72.1L719.1 66.1L701.8 67.8L693.1 72.1L684.5 76.4L667.1 89.4L667.1 89.4L649.9 89.4L649.9 89.4L649.9 72.1L649.9 72.1L651.3 54.8L654.9 37.5L649.9 37.5L632.6 37.5L615.2 37.5L615.2 54.8L615.2 72.1L615.2 89.4L615.2 89.4L612.4 106.7L602.9 124.0L598.0 128.9L589.3 141.3L580.7 158.6L580.7 158.6L563.4 167.2L554.7 175.9L546.1 193.2L546.1 193.2L537.4 210.5ZM587.1 175.9L592.2 158.6L598.0 149.9L606.6 141.3L615.2 132.6L621.9 124.0L632.6 110.1L641.2 106.7L649.9 103.8L667.1 100.2L678.7 89.4L684.5 85.1L701.8 76.4L719.1 74.1L736.4 83.4L753.6 85.1L771.0 85.1L788.2 85.1L796.9 89.4L788.2 98.0L771.0 98.0L753.6 98.0L736.4 100.0L730.6 106.7L719.1 110.5L701.8 117.1L691.6 124.0L684.5 128.5L671.1 141.3L667.1 144.6L650.5 158.6L649.9 159.1L632.6 162.9L615.2 167.2L606.6 175.9L598.0 182.0ZM736.4 219.1L753.6 219.1L768.1 210.5L755.2 193.2L753.7 192.9L751.2 193.2L736.4 199.6L719.1 210.5ZM805.5 214.8L822.9 211.1L824.6 210.5L822.9 198.9L816.2 193.2L805.5 192.8L803.2 193.2L796.9 210.5ZM251.9 80.7L269.2 72.1L269.2 72.1L286.6 54.8L286.6 54.8L296.0 37.5L286.6 37.5L281.9 37.5L275.0 54.8L269.2 60.6L251.9 61.3L245.5 54.8L243.3 37.5L234.7 37.5L217.4 37.5L208.7 37.5L217.4 46.1L226.0 54.8L234.7 72.1L234.7 72.1ZM321.2 80.7L324.7 72.1L321.2 63.4L317.6 72.1Z" fill="#fbccb4" stroke="#fbccb4" stroke-width="0.6" fill-rule="evenodd"/>
<path d="M130.8 444.0L135.2 452.6L143.8 452.6L139.5 435.3L139.5 418.0L130.8 409.4L125.8 400.7L123.2 383.4L127.6 366.1L130.8 357.5L145.3 366.1L148.2 369.0L151.6 383.4L152.5 400.7L154.3 418.0L156.8 435.3L152.5 452.6L161.1 452.6L165.4 444.0L170.9 435.3L168.3 418.0L165.5 415.1L161.1 400.7L158.5 383.4L155.9 366.1L148.2 348.8L148.2 348.8L130.8 344.5L125.8 348.8L121.2 366.1L116.8 383.4L115.6 400.7L113.5 418.0L113.5 418.0L113.5 435.3L113.5 452.6L119.3 452.6ZM234.7 446.8L251.9 446.8L269.2 440.2L271.3 435.3L280.8 418.0L286.6 407.4L290.9 400.7L286.6 394.9L269.2 385.5L251.9 388.0L240.1 400.7L242.3 418.0L234.7 427.1L227.7 435.3ZM249.2 418.0L250.9 400.7L251.9 399.6L269.2 395.6L277.9 400.7L273.6 418.0L269.2 425.4L251.9 435.3ZM580.7 452.6L598.0 452.6L612.4 452.6L615.2 435.3L615.2 435.3L623.9 418.0L623.9 400.7L615.2 388.4L598.0 388.4L593.6 400.7L593.1 418.0L593.0 435.3L580.7 444.0L572.0 452.6ZM701.8 427.4L711.2 418.0L701.8 412.5L692.3 418.0ZM200.1 306.5L217.4 296.9L217.4 296.9L226.0 279.6L230.3 262.3L223.1 245.0L217.4 240.7L208.7 227.8L200.1 219.1L191.4 210.5L182.8 201.8L174.1 193.2L165.4 184.5L156.8 175.9L148.2 167.2L139.5 158.6L130.8 149.9L113.5 149.9L113.5 155.7L130.8 155.7L133.7 158.6L148.2 173.0L151.0 175.9L165.4 190.3L168.3 193.2L182.8 207.6L185.6 210.5L200.1 224.9L202.9 227.8L208.7 245.0L217.4 253.7L221.7 262.3L217.4 279.6L217.4 279.6L200.1 296.9L193.0 279.6L195.5 262.3L197.2 245.0L182.8 230.6L179.9 227.8L165.4 213.3L162.6 210.5L148.2 196.0L145.3 193.2L130.8 178.7L128.0 175.9L113.5 161.5L113.5 167.2L122.2 175.9L130.8 184.5L139.5 193.2L148.2 201.8L156.8 210.5L165.4 219.1L174.1 227.8L182.8 236.4L191.4 245.0L190.4 262.3L188.4 279.6L191.4 296.9ZM943.9 250.1L944.0 245.0L944.0 227.8L944.0 223.4L926.6 227.8L926.6 245.0ZM598.0 182.0L606.6 175.9L615.2 167.2L632.6 162.9L649.9 159.1L650.5 158.6L667.1 144.6L671.1 141.3L684.5 128.5L691.6 124.0L701.8 117.1L719.1 110.5L730.6 106.7L736.4 100.0L753.6 98.0L771.0 98.0L788.2 98.0L796.9 89.4L788.2 85.1L771.0 85.1L753.6 85.1L736.4 83.4L719.1 74.1L701.8 76.4L684.5 85.1L678.7 89.4L667.1 100.2L649.9 103.8L641.2 106.7L632.6 110.1L621.9 124.0L615.2 132.6L606.6 141.3L598.0 149.9L592.2 158.6L587.1 175.9ZM629.7 141.3L632.6 135.5L637.5 124.0L649.9 117.3L667.1 114.4L674.8 106.7L684.5 98.0L693.1 89.4L701.8 85.1L719.1 84.3L731.4 89.4L719.1 106.7L719.1 106.7L701.8 110.1L684.5 117.5L678.0 124.0L667.1 133.6L649.9 141.3L649.9 141.3L632.6 144.2ZM874.8 124.7L876.6 124.0L892.1 119.7L906.6 106.7L909.4 104.0L925.2 89.4L926.6 87.9L942.5 72.1L944.0 69.5L944.0 64.2L939.6 72.1L926.6 85.1L922.3 89.4L909.4 101.4L903.8 106.7L892.1 117.2L874.8 121.3L858.2 106.7L861.9 89.4L874.8 76.8L879.1 72.1L889.9 54.8L892.1 51.3L898.6 37.5L895.3 37.5L892.1 44.4L885.6 54.8L876.2 72.1L874.8 73.7L858.7 89.4L857.5 95.2L848.2 106.7L857.5 117.3L869.8 124.0ZM251.9 61.3L269.2 60.6L275.0 54.8L281.9 37.5L270.4 37.5L269.2 40.4L266.4 37.5L251.9 37.5L243.3 37.5L245.5 54.8Z" fill="#f19e7d" stroke="#f19e7d" stroke-width="0.6" fill-rule="evenodd"/>
<path d="M148.2 452.6L152.5 452.6L156.8 435.3L154.3 418.0L152.5 400.7L151.6 383.4L148.2 369.0L145.3 366.1L130.8 357.5L127.6 366.1L123.2 383.4L125.8 400.7L130.8 409.4L139.5 418.0L139.5 435.3L143.8 452.6ZM129.6 383.4L130.8 378.5L135.8 383.4L130.8 388.4ZM251.9 435.3L269.2 425.4L273.6 418.0L277.9 400.7L269.2 395.6L251.9 399.6L250.9 400.7L249.2 418.0ZM200.1 296.9L217.4 279.6L217.4 279.6L221.7 262.3L217.4 253.7L208.7 245.0L202.9 227.8L200.1 224.9L185.6 210.5L182.8 207.6L168.3 193.2L165.4 190.3L151.0 175.9L148.2 173.0L133.7 158.6L130.8 155.7L113.5 155.7L113.5 158.6L113.5 161.5L128.0 175.9L130.8 178.7L145.3 193.2L148.2 196.0L162.6 210.5L165.4 213.3L179.9 227.8L182.8 230.6L197.2 245.0L195.5 262.3L193.0 279.6ZM197.7 279.6L200.1 265.2L205.8 279.6L200.1 285.4ZM632.6 144.2L649.9 141.3L649.9 141.3L667.1 133.6L678.0 124.0L684.5 117.5L701.8 110.1L719.1 106.7L719.1 106.7L731.4 89.4L719.1 84.3L701.8 85.1L693.1 89.4L684.5 98.0L674.8 106.7L667.1 114.4L649.9 117.3L637.5 124.0L632.6 135.5L629.7 141.3ZM874.8 121.3L892.1 117.2L903.8 106.7L909.4 101.4L922.3 89.4L926.6 85.1L939.6 72.1L944.0 64.2L943.9 59.0L936.7 72.1L926.6 82.2L919.4 89.4L909.4 98.7L901.0 106.7L892.1 114.7L874.8 117.9L862.1 106.7L865.1 89.4L874.8 80.0L882.0 72.1L892.1 57.0L894.2 54.8L901.8 37.5L898.6 37.5L892.1 51.3L889.9 54.8L879.1 72.1L874.8 76.8L861.9 89.4L858.2 106.7ZM269.2 40.4L270.4 37.5L269.2 37.5L266.4 37.5Z" fill="#d86551" stroke="#d86551" stroke-width="0.6" fill-rule="evenodd"/>
<path d="M130.8 388.4L135.8 383.4L130.8 378.5L129.6 383.4ZM200.1 285.4L205.8 279.6L200.1 265.2L197.7 279.6ZM874.8 117.9L892.1 114.7L901.0 106.7L909.4 98.7L919.4 89.4L926.6 82.2L936.7 72.1L943.9 59.0L944.0 54.8L944.0 47.9L942.7 54.8L933.9 72.1L926.6 79.3L916.6 89.4L909.4 96.0L898.2 106.7L892.1 112.2L874.8 114.5L865.9 106.7L868.3 89.4L874.8 83.1L884.8 72.1L892.1 61.3L898.5 54.8L905.1 37.5L901.8 37.5L894.2 54.8L892.1 57.0L882.0 72.1L874.8 80.0L865.1 89.4L862.1 106.7Z" fill="#ba2832" stroke="#ba2832" stroke-width="0.6" fill-rule="evenodd"/>
<path d="M874.8 114.5L892.1 112.2L898.2 106.7L909.4 96.0L916.6 89.4L926.6 79.3L933.9 72.1L942.7 54.8L944.0 47.9L944.0 37.5L936.8 37.5L936.3 54.8L931.0 72.1L926.6 76.4L913.7 89.4L909.4 93.4L895.4 106.7L892.1 109.7L874.8 111.1L869.8 106.7L871.5 89.4L874.8 86.2L887.7 72.1L892.1 65.6L902.9 54.8L908.4 37.5L905.1 37.5L898.5 54.8L892.1 61.3L884.8 72.1L874.8 83.1L868.3 89.4L865.9 106.7Z" fill="#840924" stroke="#840924" stroke-width="0.6" fill-rule="evenodd"/>
<path d="M874.8 111.1L892.1 109.7L895.4 106.7L909.4 93.4L913.7 89.4L926.6 76.4L931.0 72.1L936.3 54.8L936.8 37.5L926.6 37.5L909.4 37.5L908.4 37.5L902.9 54.8L892.1 65.6L887.7 72.1L874.8 86.2L871.5 89.4L869.8 106.7Z" fill="#67001f" stroke="#67001f" stroke-width="0.6" fill-rule="evenodd"/>
</g>
<path d="M113.4 37.9L243.6 37.9L220.5 69.0L238.0 85.5L252.8 73.0L269.3 72.3L286.0 89.5L286.0 108.5L269.4 125.5L269.4 156.7L251.5 175.2L251.5 192.7L235.2 210.4L234.8 227.9L217.4 245.0L200.1 245.0L182.8 262.4L165.5 279.7L165.5 297.0L148.2 314.2L130.9 331.5L130.9 348.8L113.4 366.1ZM166.0 453.5L180.6 440.3L216.8 419.0L234.6 419.0L252.1 435.3L252.1 453.5Z" fill="#fff"/>
<path d="M130.8 452.6h0M148.2 452.6h0M165.4 452.6h0M251.9 452.6h0M303.9 452.6h0M338.4 452.6h0M355.8 452.6h0M373.1 452.6h0M425.0 452.6h0M459.6 452.6h0M476.9 452.6h0M494.2 452.6h0M511.5 452.6h0M563.4 452.6h0M580.7 452.6h0M598.0 452.6h0M615.2 452.6h0M632.6 452.6h0M649.9 452.6h0M667.1 452.6h0M684.5 452.6h0M753.6 452.6h0M771.0 452.6h0M788.2 452.6h0M113.5 435.3h0M130.8 435.3h0M148.2 435.3h0M165.4 435.3h0M182.8 435.3h0M200.1 435.3h0M251.9 435.3h0M269.2 435.3h0M303.9 435.3h0M321.2 435.3h0M338.4 435.3h0M355.8 435.3h0M373.1 435.3h0M390.4 435.3h0M459.6 435.3h0M476.9 435.3h0M511.5 435.3h0M528.8 435.3h0M546.1 435.3h0M580.7 435.3h0M598.0 435.3h0M615.2 435.3h0M632.6 435.3h0M649.9 435.3h0M667.1 435.3h0M684.5 435.3h0M701.8 435.3h0M719.1 435.3h0M753.6 435.3h0M771.0 435.3h0M788.2 435.3h0M892.1 435.3h0M909.4 435.3h0M113.5 418.0h0M130.8 418.0h0M148.2 418.0h0M165.4 418.0h0M182.8 418.0h0M200.1 418.0h0M217.4 418.0h0M234.7 418.0h0M251.9 418.0h0M269.2 418.0h0M286.6 418.0h0M303.9 418.0h0M321.2 418.0h0M338.4 418.0h0M355.8 418.0h0M373.1 418.0h0M390.4 418.0h0M407.7 418.0h0M425.0 418.0h0M511.5 418.0h0M528.8 418.0h0M546.1 418.0h0M563.4 418.0h0M580.7 418.0h0M598.0 418.0h0M615.2 418.0h0M632.6 418.0h0M649.9 418.0h0M667.1 418.0h0M684.5 418.0h0M701.8 418.0h0M719.1 418.0h0M805.5 418.0h0M822.9 418.0h0M892.1 418.0h0M909.4 418.0h0M944.0 418.0h0M113.5 400.7h0M130.8 400.7h0M148.2 400.7h0M165.4 400.7h0M200.1 400.7h0M217.4 400.7h0M234.7 400.7h0M251.9 400.7h0M269.2 400.7h0M286.6 400.7h0M321.2 400.7h0M338.4 400.7h0M355.8 400.7h0M373.1 400.7h0M390.4 400.7h0M407.7 400.7h0M425.0 400.7h0M442.3 400.7h0M459.6 400.7h0M476.9 400.7h0M494.2 400.7h0M528.8 400.7h0M546.1 400.7h0M563.4 400.7h0M580.7 400.7h0M598.0 400.7h0M615.2 400.7h0M632.6 400.7h0M649.9 400.7h0M667.1 400.7h0M684.5 400.7h0M805.5 400.7h0M822.9 400.7h0M840.1 400.7h0M857.5 400.7h0M874.8 400.7h0M944.0 400.7h0M113.5 383.4h0M130.8 383.4h0M148.2 383.4h0M165.4 383.4h0M182.8 383.4h0M217.4 383.4h0M234.7 383.4h0M251.9 383.4h0M269.2 383.4h0M286.6 383.4h0M338.4 383.4h0M355.8 383.4h0M373.1 383.4h0M390.4 383.4h0M407.7 383.4h0M425.0 383.4h0M476.9 383.4h0M494.2 383.4h0M511.5 383.4h0M546.1 383.4h0M563.4 383.4h0M580.7 383.4h0M598.0 383.4h0M615.2 383.4h0M632.6 383.4h0M736.4 383.4h0M805.5 383.4h0M822.9 383.4h0M840.1 383.4h0M857.5 383.4h0M874.8 383.4h0M892.1 383.4h0M944.0 383.4h0M113.5 366.1h0M130.8 366.1h0M148.2 366.1h0M165.4 366.1h0M182.8 366.1h0M200.1 366.1h0M217.4 366.1h0M251.9 366.1h0M269.2 366.1h0M355.8 366.1h0M494.2 366.1h0M511.5 366.1h0M528.8 366.1h0M580.7 366.1h0M598.0 366.1h0M615.2 366.1h0M632.6 366.1h0M667.1 366.1h0M684.5 366.1h0M736.4 366.1h0M753.6 366.1h0M771.0 366.1h0M805.5 366.1h0M822.9 366.1h0M840.1 366.1h0M857.5 366.1h0M874.8 366.1h0M892.1 366.1h0M909.4 366.1h0M130.8 348.8h0M148.2 348.8h0M182.8 348.8h0M200.1 348.8h0M217.4 348.8h0M251.9 348.8h0M269.2 348.8h0M459.6 348.8h0M511.5 348.8h0M528.8 348.8h0M598.0 348.8h0M615.2 348.8h0M632.6 348.8h0M649.9 348.8h0M684.5 348.8h0M753.6 348.8h0M771.0 348.8h0M788.2 348.8h0M805.5 348.8h0M822.9 348.8h0M840.1 348.8h0M857.5 348.8h0M874.8 348.8h0M892.1 348.8h0M909.4 348.8h0M130.8 331.5h0M148.2 331.5h0M217.4 331.5h0M251.9 331.5h0M269.2 331.5h0M286.6 331.5h0M598.0 331.5h0M615.2 331.5h0M632.6 331.5h0M701.8 331.5h0M719.1 331.5h0M753.6 331.5h0M771.0 331.5h0M788.2 331.5h0M805.5 331.5h0M822.9 331.5h0M840.1 331.5h0M857.5 331.5h0M874.8 331.5h0M892.1 331.5h0M909.4 331.5h0M926.6 331.5h0M944.0 331.5h0M148.2 314.2h0M165.4 314.2h0M182.8 314.2h0M200.1 314.2h0M251.9 314.2h0M269.2 314.2h0M286.6 314.2h0M303.9 314.2h0M355.8 314.2h0M373.1 314.2h0M407.7 314.2h0M494.2 314.2h0M598.0 314.2h0M615.2 314.2h0M632.6 314.2h0M649.9 314.2h0M684.5 314.2h0M701.8 314.2h0M719.1 314.2h0M753.6 314.2h0M771.0 314.2h0M788.2 314.2h0M805.5 314.2h0M822.9 314.2h0M840.1 314.2h0M857.5 314.2h0M874.8 314.2h0M892.1 314.2h0M909.4 314.2h0M926.6 314.2h0M944.0 314.2h0M165.4 296.9h0M182.8 296.9h0M200.1 296.9h0M217.4 296.9h0M251.9 296.9h0M269.2 296.9h0M286.6 296.9h0M303.9 296.9h0M321.2 296.9h0M338.4 296.9h0M355.8 296.9h0M373.1 296.9h0M407.7 296.9h0M494.2 296.9h0M511.5 296.9h0M632.6 296.9h0M649.9 296.9h0M667.1 296.9h0M684.5 296.9h0M701.8 296.9h0M771.0 296.9h0M788.2 296.9h0M805.5 296.9h0M822.9 296.9h0M840.1 296.9h0M857.5 296.9h0M874.8 296.9h0M909.4 296.9h0M926.6 296.9h0M944.0 296.9h0M165.4 279.6h0M200.1 279.6h0M217.4 279.6h0M234.7 279.6h0M321.2 279.6h0M338.4 279.6h0M355.8 279.6h0M373.1 279.6h0M390.4 279.6h0M459.6 279.6h0M476.9 279.6h0M494.2 279.6h0M511.5 279.6h0M563.4 279.6h0M615.2 279.6h0M649.9 279.6h0M667.1 279.6h0M684.5 279.6h0M701.8 279.6h0M719.1 279.6h0M736.4 279.6h0M753.6 279.6h0M788.2 279.6h0M805.5 279.6h0M822.9 279.6h0M840.1 279.6h0M857.5 279.6h0M926.6 279.6h0M200.1 262.3h0M217.4 262.3h0M234.7 262.3h0M338.4 262.3h0M355.8 262.3h0M373.1 262.3h0M390.4 262.3h0M407.7 262.3h0M425.0 262.3h0M442.3 262.3h0M459.6 262.3h0M476.9 262.3h0M494.2 262.3h0M563.4 262.3h0M580.7 262.3h0M632.6 262.3h0M667.1 262.3h0M684.5 262.3h0M701.8 262.3h0M719.1 262.3h0M753.6 262.3h0M788.2 262.3h0M805.5 262.3h0M822.9 262.3h0M840.1 262.3h0M857.5 262.3h0M200.1 245.0h0M217.4 245.0h0M234.7 245.0h0M251.9 245.0h0M303.9 245.0h0M321.2 245.0h0M355.8 245.0h0M373.1 245.0h0M390.4 245.0h0M407.7 245.0h0M425.0 245.0h0M442.3 245.0h0M459.6 245.0h0M476.9 245.0h0M494.2 245.0h0M511.5 245.0h0M563.4 245.0h0M580.7 245.0h0M598.0 245.0h0M649.9 245.0h0M684.5 245.0h0M701.8 245.0h0M719.1 245.0h0M788.2 245.0h0M805.5 245.0h0M822.9 245.0h0M840.1 245.0h0M857.5 245.0h0M909.4 245.0h0M926.6 245.0h0M944.0 245.0h0M251.9 227.8h0M303.9 227.8h0M321.2 227.8h0M338.4 227.8h0M407.7 227.8h0M425.0 227.8h0M442.3 227.8h0M459.6 227.8h0M476.9 227.8h0M494.2 227.8h0M511.5 227.8h0M528.8 227.8h0M546.1 227.8h0M598.0 227.8h0M615.2 227.8h0M632.6 227.8h0M649.9 227.8h0M667.1 227.8h0M701.8 227.8h0M719.1 227.8h0M736.4 227.8h0M771.0 227.8h0M840.1 227.8h0M857.5 227.8h0M892.1 227.8h0M909.4 227.8h0M926.6 227.8h0M944.0 227.8h0M251.9 210.5h0M286.6 210.5h0M303.9 210.5h0M321.2 210.5h0M338.4 210.5h0M355.8 210.5h0M373.1 210.5h0M459.6 210.5h0M476.9 210.5h0M494.2 210.5h0M511.5 210.5h0M528.8 210.5h0M546.1 210.5h0M563.4 210.5h0M580.7 210.5h0M632.6 210.5h0M649.9 210.5h0M667.1 210.5h0M684.5 210.5h0M701.8 210.5h0M719.1 210.5h0M736.4 210.5h0M753.6 210.5h0M771.0 210.5h0M788.2 210.5h0M805.5 210.5h0M822.9 210.5h0M944.0 210.5h0M251.9 193.2h0M269.2 193.2h0M286.6 193.2h0M303.9 193.2h0M321.2 193.2h0M338.4 193.2h0M355.8 193.2h0M373.1 193.2h0M390.4 193.2h0M407.7 193.2h0M459.6 193.2h0M476.9 193.2h0M494.2 193.2h0M511.5 193.2h0M528.8 193.2h0M546.1 193.2h0M563.4 193.2h0M580.7 193.2h0M598.0 193.2h0M632.6 193.2h0M649.9 193.2h0M667.1 193.2h0M684.5 193.2h0M701.8 193.2h0M719.1 193.2h0M736.4 193.2h0M753.6 193.2h0M771.0 193.2h0M788.2 193.2h0M805.5 193.2h0M822.9 193.2h0M840.1 193.2h0M857.5 193.2h0M944.0 193.2h0M251.9 175.9h0M286.6 175.9h0M303.9 175.9h0M321.2 175.9h0M338.4 175.9h0M355.8 175.9h0M373.1 175.9h0M390.4 175.9h0M407.7 175.9h0M425.0 175.9h0M476.9 175.9h0M494.2 175.9h0M511.5 175.9h0M528.8 175.9h0M546.1 175.9h0M580.7 175.9h0M598.0 175.9h0M615.2 175.9h0M649.9 175.9h0M667.1 175.9h0M684.5 175.9h0M701.8 175.9h0M719.1 175.9h0M736.4 175.9h0M753.6 175.9h0M771.0 175.9h0M788.2 175.9h0M805.5 175.9h0M840.1 175.9h0M857.5 175.9h0M874.8 175.9h0M892.1 175.9h0M286.6 158.6h0M303.9 158.6h0M321.2 158.6h0M338.4 158.6h0M355.8 158.6h0M373.1 158.6h0M390.4 158.6h0M407.7 158.6h0M425.0 158.6h0M442.3 158.6h0M546.1 158.6h0M563.4 158.6h0M580.7 158.6h0M598.0 158.6h0M615.2 158.6h0M632.6 158.6h0M649.9 158.6h0M684.5 158.6h0M701.8 158.6h0M719.1 158.6h0M736.4 158.6h0M753.6 158.6h0M771.0 158.6h0M788.2 158.6h0M805.5 158.6h0M822.9 158.6h0M840.1 158.6h0M857.5 158.6h0M874.8 158.6h0M892.1 158.6h0M909.4 158.6h0M926.6 158.6h0M286.6 141.3h0M303.9 141.3h0M321.2 141.3h0M338.4 141.3h0M355.8 141.3h0M373.1 141.3h0M390.4 141.3h0M407.7 141.3h0M425.0 141.3h0M442.3 141.3h0M459.6 141.3h0M476.9 141.3h0M494.2 141.3h0M511.5 141.3h0M528.8 141.3h0M563.4 141.3h0M580.7 141.3h0M598.0 141.3h0M615.2 141.3h0M632.6 141.3h0M649.9 141.3h0M667.1 141.3h0M701.8 141.3h0M719.1 141.3h0M736.4 141.3h0M753.6 141.3h0M771.0 141.3h0M788.2 141.3h0M805.5 141.3h0M822.9 141.3h0M840.1 141.3h0M857.5 141.3h0M874.8 141.3h0M892.1 141.3h0M909.4 141.3h0M926.6 141.3h0M944.0 141.3h0M269.2 124.0h0M286.6 124.0h0M303.9 124.0h0M338.4 124.0h0M373.1 124.0h0M390.4 124.0h0M407.7 124.0h0M425.0 124.0h0M442.3 124.0h0M459.6 124.0h0M476.9 124.0h0M494.2 124.0h0M511.5 124.0h0M528.8 124.0h0M546.1 124.0h0M580.7 124.0h0M598.0 124.0h0M615.2 124.0h0M632.6 124.0h0M649.9 124.0h0M667.1 124.0h0M684.5 124.0h0M701.8 124.0h0M719.1 124.0h0M736.4 124.0h0M753.6 124.0h0M771.0 124.0h0M788.2 124.0h0M805.5 124.0h0M822.9 124.0h0M857.5 124.0h0M874.8 124.0h0M909.4 124.0h0M926.6 124.0h0M944.0 124.0h0M286.6 106.7h0M303.9 106.7h0M321.2 106.7h0M338.4 106.7h0M355.8 106.7h0M390.4 106.7h0M407.7 106.7h0M425.0 106.7h0M442.3 106.7h0M459.6 106.7h0M476.9 106.7h0M494.2 106.7h0M511.5 106.7h0M528.8 106.7h0M546.1 106.7h0M563.4 106.7h0M580.7 106.7h0M615.2 106.7h0M632.6 106.7h0M649.9 106.7h0M667.1 106.7h0M684.5 106.7h0M701.8 106.7h0M719.1 106.7h0M736.4 106.7h0M771.0 106.7h0M788.2 106.7h0M840.1 106.7h0M857.5 106.7h0M874.8 106.7h0M892.1 106.7h0M909.4 106.7h0M926.6 106.7h0M944.0 106.7h0M234.7 89.4h0M303.9 89.4h0M321.2 89.4h0M338.4 89.4h0M355.8 89.4h0M407.7 89.4h0M425.0 89.4h0M459.6 89.4h0M476.9 89.4h0M494.2 89.4h0M511.5 89.4h0M528.8 89.4h0M546.1 89.4h0M563.4 89.4h0M615.2 89.4h0M632.6 89.4h0M649.9 89.4h0M684.5 89.4h0M701.8 89.4h0M719.1 89.4h0M736.4 89.4h0M753.6 89.4h0M771.0 89.4h0M788.2 89.4h0M805.5 89.4h0M822.9 89.4h0M874.8 89.4h0M892.1 89.4h0M909.4 89.4h0M944.0 89.4h0M200.1 72.1h0M217.4 72.1h0M234.7 72.1h0M251.9 72.1h0M269.2 72.1h0M286.6 72.1h0M303.9 72.1h0M321.2 72.1h0M338.4 72.1h0M355.8 72.1h0M476.9 72.1h0M494.2 72.1h0M511.5 72.1h0M528.8 72.1h0M615.2 72.1h0M632.6 72.1h0M649.9 72.1h0M667.1 72.1h0M701.8 72.1h0M719.1 72.1h0M736.4 72.1h0M788.2 72.1h0M857.5 72.1h0M892.1 72.1h0M909.4 72.1h0M926.6 72.1h0M234.7 54.8h0M251.9 54.8h0M269.2 54.8h0M286.6 54.8h0M303.9 54.8h0M321.2 54.8h0M338.4 54.8h0M390.4 54.8h0M459.6 54.8h0M476.9 54.8h0M494.2 54.8h0M615.2 54.8h0M632.6 54.8h0M649.9 54.8h0M667.1 54.8h0M684.5 54.8h0M736.4 54.8h0M753.6 54.8h0M771.0 54.8h0M805.5 54.8h0M822.9 54.8h0M840.1 54.8h0M857.5 54.8h0M892.1 54.8h0M909.4 54.8h0M926.6 54.8h0M251.9 37.5h0M269.2 37.5h0M286.6 37.5h0M303.9 37.5h0M321.2 37.5h0M338.4 37.5h0M442.3 37.5h0M459.6 37.5h0M476.9 37.5h0M511.5 37.5h0M528.8 37.5h0M598.0 37.5h0M615.2 37.5h0M632.6 37.5h0M649.9 37.5h0M684.5 37.5h0M701.8 37.5h0M719.1 37.5h0" stroke="#000" stroke-width="4.5" stroke-linecap="round" fill="none"/>
<path d="M113.4 37.9L241.5 37.7L242.9 42.4L237.9 44.8L228.7 46.6L218.8 49.1L211.0 53.0L203.9 58.7L192.5 63.7L183.3 68.4L179.7 73.2L175.5 79.3L170.5 82.1L159.8 79.7L143.5 79.7L134.3 84.3L126.5 90.2L131.5 88.8L137.8 89.9L147.8 85.4L157.3 97.8L175.5 95.6L185.4 89.9L193.9 86.0L201.0 85.7L207.4 87.8L215.2 94.2L221.2 99.9L229.7 107.7L239.6 109.9L248.1 113.4L258.3 115.8L248.1 120.5L239.6 126.9L232.5 132.6L225.4 136.8L217.6 142.5L224.0 141.1L230.4 139.7L236.8 135.4L245.3 132.6L248.9 135.4L249.6 143.9L248.1 153.9L246.0 166.7L241.8 167.4L238.9 161.0L234.7 158.1L228.3 159.6L218.3 160.3L213.4 165.9L218.1 166.4L225.2 170.7L230.2 175.6L229.5 179.2L220.3 180.9L226.7 183.5L228.8 186.3L226.7 191.3L219.6 194.8L216.7 199.8L219.6 206.2L223.1 214.7L225.9 224.6L218.1 222.5L209.6 227.5L202.5 229.6L199.0 221.1L192.6 222.5L188.3 227.5L184.1 236.0L180.5 242.4L172.7 243.8L164.9 244.5L168.5 247.3L171.0 248.5L168.9 252.7L164.6 257.7L159.7 264.1L158.9 269.1L154.0 273.3L156.8 277.6L155.4 284.0L149.0 291.8L140.5 300.3L134.1 306.0L129.8 312.4L126.3 318.8L122.7 325.0L118.0 333.0L113.4 341.0ZM249.6 96.4L259.5 96.4L268.0 99.9L274.8 103.9L273.0 110.6L268.0 108.5L260.9 106.3L253.8 105.3L250.3 101.4ZM274.4 110.6L279.4 109.2L281.1 113.4L280.1 117.7L276.5 116.3ZM254.5 124.1L259.5 121.9L263.0 126.2L264.5 131.2L259.5 128.3ZM191.9 235.3L196.1 231.0L199.0 231.7L200.0 238.8L195.4 240.2L191.9 240.2ZM184.2 453.5L188.5 447.8L198.4 443.8L208.3 440.3L214.0 434.6L219.7 432.7L224.7 433.9L231.0 439.6L241.0 443.8L246.0 447.4L247.4 453.5ZM685.5 322.6L690.6 326.4L689.3 332.1L685.5 337.1L679.2 340.9L672.9 344.7L667.9 347.9L662.2 351.0L657.1 353.5L659.7 358.6L657.1 360.5L654.0 365.5L653.3 371.8L648.9 375.6L643.2 376.2L642.6 370.6L646.4 364.3L648.9 359.8L648.9 353.5L654.0 351.6L658.4 347.9L661.5 343.4L659.0 338.4L661.5 335.2L667.9 337.1L672.9 337.1L676.7 333.3L681.7 329.6L683.6 324.5ZM784.6 208.5L786.0 212.0L784.6 216.3L777.5 218.4L771.8 223.4L768.2 227.7L764.7 231.9L760.4 236.2L759.0 240.4L754.0 239.0L751.2 236.2L749.1 230.5L746.9 227.7L752.6 225.5L757.6 221.3L764.7 219.1L771.8 217.7L777.5 212.0ZM731.3 251.1L734.9 253.2L737.0 260.3L735.6 265.3L731.3 265.3L728.5 261.0L728.1 255.3ZM839.8 74.3L852.6 81.4L849.0 89.2L839.1 89.9L834.8 85.7L832.0 79.3ZM878.1 49.5L880.7 53.7L879.6 61.6L876.7 68.7L874.6 73.6L872.5 79.3L866.1 79.3L866.1 75.7L869.6 70.1L871.8 61.6L873.9 54.5L876.0 50.9Z" fill="#808080" stroke="#000" stroke-width="2.9" stroke-linejoin="round"/>
<path d="M250.9 417.0C253.4 413.6 260.9 403.1 266.0 396.7C271.1 390.3 276.0 384.5 281.6 378.4C287.2 372.3 293.7 365.2 299.8 360.2C305.9 355.2 310.6 352.6 318.0 348.5C325.4 344.4 335.4 339.2 344.1 335.5C352.8 331.8 361.4 329.0 370.1 326.4C378.8 323.8 387.8 322.1 396.1 319.9C404.4 317.6 412.9 315.6 420.0 312.9C427.1 310.2 433.4 307.0 438.7 303.7C444.0 300.4 447.6 297.1 452.0 293.1C456.4 289.1 460.8 284.7 465.2 279.8C469.6 274.9 472.2 271.4 478.5 263.8C484.8 256.2 496.2 242.8 503.1 234.3C510.0 225.8 514.2 219.6 519.7 212.7C525.2 205.8 530.7 199.5 536.2 192.9C541.7 186.3 547.3 179.3 552.8 173.0C558.3 166.7 564.4 160.8 569.4 154.8C574.4 148.8 578.8 142.1 583.0 137.0C587.2 131.9 589.1 129.8 594.7 124.4C600.3 119.0 609.4 110.8 616.8 104.5C624.2 98.2 631.5 92.0 638.9 86.8C646.3 81.6 654.1 77.6 661.0 73.6C667.9 69.6 674.5 65.7 680.0 62.7C685.5 59.7 689.5 57.8 694.2 55.6C698.9 53.4 703.7 51.1 708.4 49.3C713.1 47.5 717.9 46.1 722.6 44.8C727.3 43.5 732.1 42.3 736.8 41.4C741.5 40.5 746.3 39.9 751.0 39.4C755.7 38.9 759.4 38.9 765.2 38.5C771.0 38.1 778.9 36.9 786.0 37.0C793.1 37.1 800.9 38.4 807.8 39.0C814.7 39.6 821.9 39.9 827.6 40.8C833.3 41.7 837.5 42.5 841.8 44.2C846.1 46.0 851.3 50.1 853.2 51.3L861.7 45.6L870.2 39.9L874.0 37.0" fill="none" stroke="#3cb44b" stroke-width="3.9" stroke-linecap="butt" stroke-linejoin="round"/>
<path d="M432.0 453.5C432.6 453.1 431.5 452.8 435.4 451.4C439.3 450.0 449.2 447.5 455.3 445.4C461.4 443.3 466.4 441.3 471.9 438.8C477.4 436.3 483.7 432.9 488.4 430.5C493.1 428.1 495.4 427.0 500.0 424.6C504.6 422.2 510.5 419.3 515.8 415.9C521.0 412.5 526.2 408.3 531.5 404.1C536.8 399.9 542.0 395.4 547.3 390.7C552.6 386.0 557.9 381.1 563.1 375.7C568.4 370.3 573.5 364.3 578.8 358.4C584.0 352.5 590.4 344.9 594.6 340.2C598.8 335.5 600.0 334.6 604.1 330.0C608.2 325.4 613.9 318.7 619.1 312.5C624.4 306.3 630.1 299.2 635.6 292.6C641.1 286.0 646.7 279.3 652.2 272.7C657.7 266.1 663.2 259.4 668.7 252.8C674.2 246.2 679.8 239.0 685.3 233.0C690.8 227.0 696.4 222.1 701.9 217.0C707.4 211.9 712.9 207.0 718.4 202.5C723.9 198.0 729.5 193.8 735.0 190.0C740.5 186.2 746.6 182.9 751.6 180.0C756.6 177.1 760.6 174.5 765.2 172.8C769.8 171.1 774.7 170.2 779.4 169.8C784.1 169.4 788.9 169.9 793.6 170.6C798.3 171.3 803.1 172.9 807.8 174.0C812.5 175.1 817.3 176.1 822.0 176.9C826.7 177.7 831.5 178.2 836.2 178.6C840.9 179.0 845.7 179.1 850.4 179.1C855.1 179.1 859.9 179.1 864.6 178.6C869.3 178.1 874.1 177.2 878.8 176.3C883.5 175.4 888.3 174.1 893.0 172.9C897.7 171.7 902.4 170.6 907.1 169.2C911.8 167.8 916.6 166.2 921.3 164.4C926.0 162.7 931.5 160.4 935.5 158.7C939.5 157.0 943.8 154.9 945.5 154.2" fill="none" stroke="#3cb44b" stroke-width="3.9"/>
<path d="M308.8 453.5C309.0 453.1 307.8 454.7 310.2 451.3C312.6 447.9 318.4 438.7 323.2 433.1C328.0 427.5 333.7 422.3 338.9 417.5C344.1 412.7 349.3 408.0 354.5 404.5C359.7 401.0 363.2 399.1 370.1 396.7C377.0 394.3 387.8 391.9 396.1 390.2C404.4 388.5 412.9 388.1 420.0 386.3C427.1 384.5 432.8 381.6 438.7 379.2C444.6 376.8 449.8 374.7 455.3 371.9C460.8 369.1 465.8 366.5 471.9 362.6C478.0 358.7 486.2 353.1 491.7 348.7C497.2 344.3 497.8 343.3 505.0 336.1C512.2 328.9 526.4 315.0 535.2 305.5C544.0 296.0 550.0 288.1 557.6 279.0C565.2 269.9 573.4 259.6 580.6 250.8C587.8 242.0 594.5 233.7 600.7 226.0C607.0 218.3 612.3 211.4 618.1 204.5C623.9 197.6 629.9 190.7 635.6 184.6C641.3 178.5 646.7 173.2 652.2 168.0C657.7 162.8 664.1 157.2 668.7 153.1C673.3 149.0 675.8 147.1 680.0 143.6C684.2 140.1 689.5 136.0 694.2 132.2C698.9 128.4 703.7 124.2 708.4 120.9C713.1 117.6 717.9 114.8 722.6 112.3C727.3 109.8 732.1 107.8 736.8 106.1C741.5 104.4 746.3 103.4 751.0 102.4C755.7 101.4 760.5 100.7 765.2 100.1C769.9 99.5 774.7 99.0 779.4 98.7C784.1 98.4 789.4 98.0 793.6 98.1C797.9 98.1 801.1 98.0 804.9 99.0C808.7 100.0 812.5 102.1 816.3 103.8C820.1 105.5 823.8 107.2 827.6 108.9C831.4 110.6 835.2 112.4 839.0 113.8C842.8 115.2 846.6 116.7 850.4 117.5C854.2 118.3 857.9 118.8 861.7 118.9C865.5 119.0 869.3 118.8 873.1 118.0C876.9 117.2 880.6 115.7 884.4 113.8C888.2 111.9 892.0 109.3 895.8 106.7C899.6 104.1 903.3 101.2 907.1 98.1C910.9 95.0 914.7 92.0 918.5 88.2C922.3 84.4 926.1 80.1 929.9 75.4C933.7 70.7 938.6 63.6 941.2 59.8C943.8 56.0 944.8 53.9 945.5 52.7" fill="none" stroke="#000" stroke-width="4.4"/>
<path d="M528.7 155.2L702.8 294.1" fill="none" stroke="#000" stroke-width="3.9" stroke-dasharray="13.85 5.99"/>
</g>
<text x="715.3" y="314" font-size="29.6" font-weight="bold">PN</text>
<rect x="113.5" y="37.5" width="830.4" height="415.1" fill="none" stroke="#000" stroke-width="2.3"/>
<text x="113.5" y="488.8" font-size="25.0" text-anchor="middle">120°E</text>
<text x="321.2" y="488.8" font-size="25.0" text-anchor="middle">123°E</text>
<text x="528.8" y="488.8" font-size="25.0" text-anchor="middle">126°E</text>
<text x="736.4" y="488.8" font-size="25.0" text-anchor="middle">129°E</text>
<text x="944.0" y="488.8" font-size="25.0" text-anchor="middle">132°E</text>
<text x="96.5" y="462.5" font-size="25.0" text-anchor="end">25°N</text>
<text x="96.5" y="324.1" font-size="25.0" text-anchor="end">27°N</text>
<text x="96.5" y="185.8" font-size="25.0" text-anchor="end">29°N</text>
<text x="96.5" y="47.4" font-size="25.0" text-anchor="end">31°N</text>
<path d="M113.5 452.6v8.9M321.2 452.6v8.9M528.8 452.6v8.9M736.4 452.6v8.9M944.0 452.6v8.9M113.5 452.6h-8.9M113.5 314.2h-8.9M113.5 175.9h-8.9M113.5 37.5h-8.9" stroke="#000" stroke-width="2.3" fill="none"/>
<text x="528.5" y="523.5" font-size="25.0" text-anchor="middle">Lon</text>
<text transform="translate(18,245) rotate(-90)" font-size="25.0" text-anchor="middle">Lat</text>
<text x="113.5" y="22.8" font-size="30.5" font-weight="bold">a</text>
<text x="1092.6" y="22.8" font-size="30.5" font-weight="bold">b</text>
<g shape-rendering="crispEdges">
<rect x="155.50" y="533.4" width="63.07" height="20.9" fill="#10457e"/>
<rect x="218.07" y="533.4" width="63.07" height="20.9" fill="#2a71b2"/>
<rect x="280.63" y="533.4" width="63.07" height="20.9" fill="#4997c5"/>
<rect x="343.20" y="533.4" width="63.07" height="20.9" fill="#8ac0db"/>
<rect x="405.77" y="533.4" width="63.07" height="20.9" fill="#c2ddec"/>
<rect x="468.33" y="533.4" width="63.07" height="20.9" fill="#e7f0f4"/>
<rect x="530.90" y="533.4" width="63.07" height="20.9" fill="#f9ebe3"/>
<rect x="593.47" y="533.4" width="63.07" height="20.9" fill="#fbccb4"/>
<rect x="656.03" y="533.4" width="63.07" height="20.9" fill="#f19e7d"/>
<rect x="718.60" y="533.4" width="63.07" height="20.9" fill="#d86551"/>
<rect x="781.17" y="533.4" width="63.07" height="20.9" fill="#ba2832"/>
<rect x="843.73" y="533.4" width="63.07" height="20.9" fill="#840924"/>
</g>
<path d="M156.0 533.4L114.6 543.8L156.0 554.3Z" fill="#053061"/>
<path d="M905.8 533.4L946.2 543.8L905.8 554.3Z" fill="#67001f"/>
<path d="M155.5 533.4L906.3 533.4L946.2 543.8L906.3 554.3L155.5 554.3L114.6 543.8Z" fill="none" stroke="#000" stroke-width="2.3" stroke-linejoin="miter"/>
<text x="155.5" y="590" font-size="25.0" text-anchor="middle">−3</text>
<text x="280.6" y="590" font-size="25.0" text-anchor="middle">−2</text>
<text x="405.8" y="590" font-size="25.0" text-anchor="middle">−1</text>
<text x="530.9" y="590" font-size="25.0" text-anchor="middle">0</text>
<text x="656.0" y="590" font-size="25.0" text-anchor="middle">1</text>
<text x="781.2" y="590" font-size="25.0" text-anchor="middle">2</text>
<text x="906.3" y="590" font-size="25.0" text-anchor="middle">3</text>
<path d="M155.5 554.3v8.9M280.6 554.3v8.9M405.8 554.3v8.9M530.9 554.3v8.9M656.0 554.3v8.9M781.2 554.3v8.9M906.3 554.3v8.9" stroke="#000" stroke-width="2.3" fill="none"/>
<text x="530" y="629" font-size="25.0" font-style="italic" text-anchor="middle">cm s<tspan dy="-10.5" font-size="17.5" font-style="normal">−1</tspan><tspan dy="10.5"> per decade</tspan></text>
<rect x="1150.0" y="95.6" width="49.9" height="105.6" fill="#e41a1c" shape-rendering="crispEdges"/>
<rect x="1316.3" y="200.4" width="49.6" height="166.7" fill="#377eb8" shape-rendering="crispEdges"/>
<path d="M1092.3 200.4H1423.9" stroke="#000" stroke-width="2.6" stroke-dasharray="9.25 4.0" fill="none"/>
<path d="M1175.3 56.6V135.7M1340.9 300.3V433.5" stroke="#000" stroke-width="4.2" fill="none"/>
<path d="M1162.5 56.6h25.7M1162.5 135.7h25.7M1328.1 300.3h25.7M1328.1 433.5h25.7" stroke="#000" stroke-width="3.3" fill="none"/>
<rect x="1092.3" y="37.5" width="331.6" height="415.1" fill="none" stroke="#000" stroke-width="2.3"/>
<text x="1074.5" y="51.1" font-size="25.0" text-anchor="end">0.6</text>
<text x="1074.5" y="104.2" font-size="25.0" text-anchor="end">0.4</text>
<text x="1074.5" y="157.3" font-size="25.0" text-anchor="end">0.2</text>
<text x="1074.5" y="210.3" font-size="25.0" text-anchor="end">0.0</text>
<text x="1074.5" y="263.4" font-size="25.0" text-anchor="end">−0.2</text>
<text x="1074.5" y="316.5" font-size="25.0" text-anchor="end">−0.4</text>
<text x="1074.5" y="369.6" font-size="25.0" text-anchor="end">−0.6</text>
<text x="1074.5" y="422.7" font-size="25.0" text-anchor="end">−0.8</text>
<text x="1175.3" y="488.8" font-size="25.0" text-anchor="middle">onshore</text>
<text x="1340.9" y="488.8" font-size="25.0" text-anchor="middle">offshore</text>
<path d="M1092.3 41.2h-8.9M1092.3 94.3h-8.9M1092.3 147.4h-8.9M1092.3 200.4h-8.9M1092.3 253.5h-8.9M1092.3 306.6h-8.9M1092.3 359.7h-8.9M1092.3 412.8h-8.9M1175.3 452.6v8.9M1340.9 452.6v8.9" stroke="#000" stroke-width="2.3" fill="none"/>
<text transform="translate(998.6,245) rotate(-90)" font-size="25.0" font-style="italic" text-anchor="middle">cm s<tspan dy="-10.5" font-size="17.5" font-style="normal">−1</tspan><tspan dy="10.5"> per decade</tspan></text>
</svg></body></html>
